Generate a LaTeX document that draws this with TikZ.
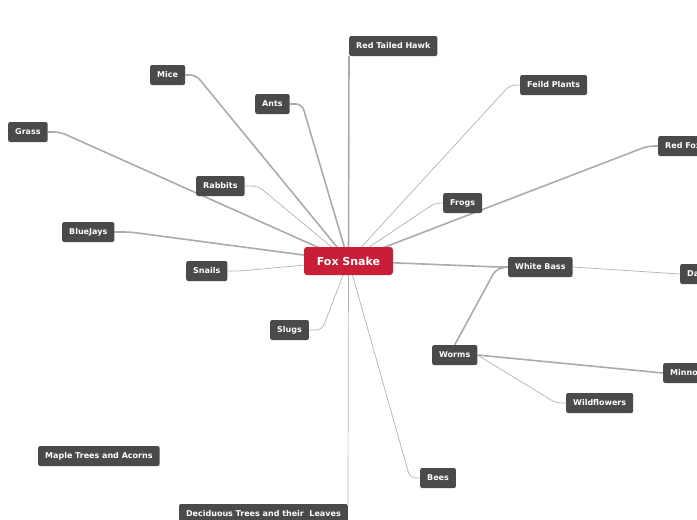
\documentclass[tikz,border=0pt]{standalone}
\usepackage{fontspec}
\setmainfont{DejaVu Sans}
\usetikzlibrary{backgrounds}
\definecolor{snake}{RGB}{200,30,55}
\begin{document}
\begin{tikzpicture}[x=1pt,y=-1pt,
  box/.style={fill=black!71,text=white,font=\bfseries\fontsize{8}{9}\selectfont,rounded corners=2pt,minimum height=20pt,inner xsep=7pt,anchor=west},
  main/.style={fill=snake,text=white,font=\bfseries\fontsize{11}{13}\selectfont,rounded corners=3pt,minimum height=28pt,minimum width=89pt},
  thick/.style={draw=black!33,line width=1.6pt,rounded corners=6pt},
  thin/.style={draw=black!30,line width=0.7pt,rounded corners=6pt}]
\useasboundingbox (0,0) rectangle (697,520);
\clip (0,0) rectangle (697,520);
\node[main] (c) at (348.5,261) {Fox Snake};
\node[box] (hawk) at (349,46) {Red Tailed Hawk};
\node[box] (mice) at (150,75) {Mice};
\node[box] (ants) at (255,104) {Ants};
\node[box] (feild) at (520,85) {Feild Plants};
\node[box] (grass) at (8,132) {Grass};
\node[box] (fox) at (658,146) {Red Fox};
\node[box] (rab) at (196,186) {Rabbits};
\node[box] (frogs) at (443,203) {Frogs};
\node[box] (blue) at (62,232) {BlueJays};
\node[box] (snails) at (186,271) {Snails};
\node[box] (wb) at (508,267) {White Bass};
\node[box] (da) at (680,274) {Dace};
\node[box] (slugs) at (270,330) {Slugs};
\node[box] (worms) at (432,355) {Worms};
\node[box] (minn) at (663,373) {Minnows};
\node[box] (wild) at (566,403) {Wildflowers};
\node[box] (bees) at (420,478) {Bees};
\node[box] (maple) at (38,456) {Maple Trees and Acorns};
\node[box,anchor=east] (dec) at (348,514) {Deciduous Trees and their\ \ Leaves};
\begin{pgfonlayer}{background}
\draw[thick] (c.center) -- (hawk.south west);
\draw[thick] (c.center) -- (196,75) -- (mice.east);
\draw[thick] (c.center) -- (302,104) -- (ants.east);
\draw[thin] (c.center) -- (510,85) -- (feild.west);
\draw[thick] (c.center) -- (60,132) -- (grass.east);
\draw[thick] (c.center) -- (648,146) -- (fox.west);
\draw[thin] (c.center) -- (258,186) -- (rab.east);
\draw[thin] (c.center) -- (435,203) -- (frogs.west);
\draw[thick] (c.center) -- (130,232) -- (blue.east);
\draw[thin] (c.center) -- (240,271) -- (snails.east);
\draw[thick] (c.center) -- (498,267) -- (wb.west);
\draw[thin] (wb.east) -- (da.west);
\draw[thin] (c.center) -- (322,330) -- (slugs.east);
\draw[thick] (wb.west) -- (496,269) -- (worms.north);
\draw[thick] (worms.east) -- (minn.west);
\draw[thin] (worms.east) -- (556,403) -- (wild.west);
\draw[thin] (c.center) -- (410,478) -- (bees.west);
\draw[thin] (c.center) -- (dec.north east);
\end{pgfonlayer}
\end{tikzpicture}
\end{document}
